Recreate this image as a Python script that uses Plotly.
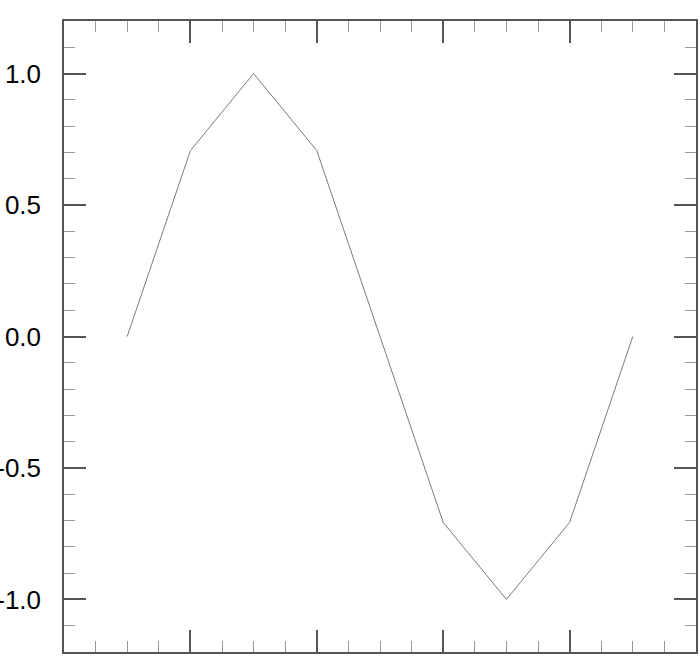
import plotly.graph_objects as go

# sine sampled at 8 steps per period
x_vals = [0, 1, 2, 3, 4, 5, 6, 7, 8]
y_vals = [0.0, 0.707, 1.0, 0.707, 0.0, -0.707, -1.0, -0.707, 0.0]
y_ticks = [-1.0, -0.5, 0.0, 0.5, 1.0]
y_labels = ["-1.0", "-0.5", "0.0", "0.5", "1.0"]

fig = go.Figure()
fig.add_trace(go.Scatter(x=x_vals, y=y_vals, mode="lines",
                         line=dict(color="#7a7a7a", width=1)))

axis_style = dict(
    showgrid=False, zeroline=False, automargin=False,
    showline=True, linecolor="#555555", linewidth=1.5,
    mirror="allticks", ticks="inside", ticklen=22, tickwidth=1.5, tickcolor="#555555",
)

fig.update_xaxes(range=[-1, 9], tick0=1, dtick=2, showticklabels=False,
                 minor=dict(ticks="inside", ticklen=11, dtick=0.5, tick0=0,
                            tickcolor="#999999", tickwidth=1),
                 **axis_style)
fig.update_yaxes(range=[-1.2, 1.2], tickvals=y_ticks, ticktext=y_labels,
                 tickfont=dict(family="Liberation Sans, Arial", size=26, color="black"),
                 ticklabelstandoff=16,
                 minor=dict(ticks="inside", ticklen=11, dtick=0.1, tick0=0,
                            tickcolor="#999999", tickwidth=1),
                 **axis_style)

fig.update_layout(width=700, height=658, showlegend=False,
                  margin=dict(l=64, r=4, t=21, b=6),
                  plot_bgcolor="white", paper_bgcolor="white")

# drop the default body margin so the figure sits at the page corner
fig.write_html("out.html", config={"displayModeBar": False},
               post_script="document.body.style.margin='0';")
